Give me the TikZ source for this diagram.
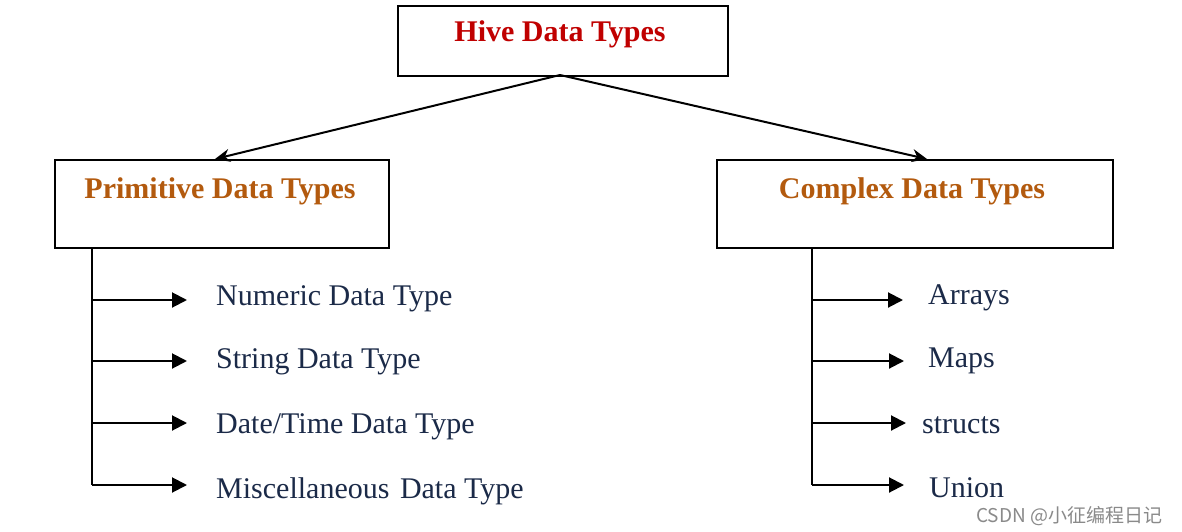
\documentclass[tikz,border=0pt]{standalone}
\usepackage{fontspec}
\setmainfont{Liberation Serif}
\newfontfamily\wmfont{Noto Sans CJK SC}
\usetikzlibrary{arrows.meta}
\definecolor{hivered}{HTML}{C00000}
\definecolor{catbrown}{HTML}{B35A0E}
\definecolor{itemnavy}{HTML}{1B2A48}
\definecolor{wmgray}{HTML}{8A8A8A}
\tikzset{
  box/.style={draw=black, line width=2pt, fill=white},
  titletext/.style={inner sep=0pt, anchor=base, font=\fontsize{30}{36}\selectfont\bfseries},
  itemtext/.style={inner sep=0pt, anchor=base west, text=itemnavy, font=\fontsize{30}{36}\selectfont},
  toparrow/.style={line width=2pt, -{Stealth[length=15pt,width=13pt]}},
  itemarrow/.style={line width=2pt, -{Triangle[length=15pt,width=15pt]}},
  trunk/.style={line width=2pt},
}
\begin{document}
\begin{tikzpicture}[x=1pt,y=-1pt]
\useasboundingbox (0,0) rectangle (1182,532);
\fill[white] (0,0) rectangle (1182,532);
% boxes
\node[box, minimum width=330pt, minimum height=70pt, anchor=north west] (hive) at (397,5) {};
\node[box, minimum width=334pt, minimum height=88pt, anchor=north west] (prim) at (54,159) {};
\node[box, minimum width=396pt, minimum height=88pt, anchor=north west] (comp) at (716,159) {};
% titles
\node[titletext, text=hivered] (hivet) at (560,42) {Hive Data Types};
\node[titletext, text=catbrown] (primt) at (220,198) {Primitive Data Types};
\node[titletext, text=catbrown] (compt) at (912,198) {Complex Data Types};
% top arrows
\coordinate (hs) at (560,75);
\coordinate (pe) at (215,159);
\coordinate (ce) at (927,159);
\draw[toparrow] (hs) -- (pe);
\draw[toparrow] (hs) -- (ce);
% left trunk
\coordinate (lt) at (92,247);
\coordinate (lb) at (92,485);
\draw[trunk] (lt) -- (lb);
\coordinate (l1) at (92,300); \coordinate (l1e) at (187,300);
\coordinate (l2) at (92,361); \coordinate (l2e) at (187,361);
\coordinate (l3) at (92,423); \coordinate (l3e) at (187,423);
\coordinate (l4) at (92,485); \coordinate (l4e) at (187,485);
\draw[itemarrow] (l1) -- (l1e);
\draw[itemarrow] (l2) -- (l2e);
\draw[itemarrow] (l3) -- (l3e);
\draw[itemarrow] (l4) -- (l4e);
\node[itemtext] (num) at (216,305) {Numeric Data Type};
\node[itemtext] (str) at (216,368) {String Data Type};
\node[itemtext] (dat) at (216,433) {Date/Time Data Type};
\node[itemtext] (mis) at (216,498) {Miscellaneous\hspace{0.35em}Data Type};
% right trunk
\coordinate (rt) at (812,247);
\coordinate (rb) at (812,485);
\draw[trunk] (rt) -- (rb);
\coordinate (r1) at (812,300); \coordinate (r1e) at (903,300);
\coordinate (r2) at (812,361); \coordinate (r2e) at (904,361);
\coordinate (r3) at (812,423); \coordinate (r3e) at (906,423);
\coordinate (r4) at (812,485); \coordinate (r4e) at (904,485);
\draw[itemarrow] (r1) -- (r1e);
\draw[itemarrow] (r2) -- (r2e);
\draw[itemarrow] (r3) -- (r3e);
\draw[itemarrow] (r4) -- (r4e);
\node[itemtext] (arr) at (928,304) {Arrays};
\node[itemtext] (map) at (928,367) {Maps};
\node[itemtext] (stc) at (922,433) {structs};
\node[itemtext] (uni) at (929,497) {Union};
% watermark
\node[inner sep=0pt, anchor=base west, text=wmgray, font=\wmfont\fontsize{19}{22}\selectfont] (wm) at (976,522) {CSDN @小征编程日记};
\end{tikzpicture}
\end{document}
